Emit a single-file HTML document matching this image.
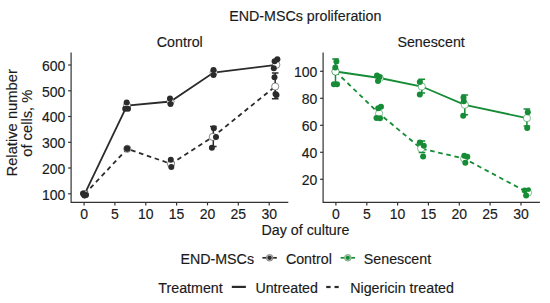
<!DOCTYPE html>
<html><head><meta charset="utf-8"><style>
html,body{margin:0;padding:0;background:#fff;width:550px;height:303px;overflow:hidden}
svg{display:block}
text{font-family:"Liberation Sans", sans-serif;fill:#1a1a1a;stroke:#1a1a1a;stroke-width:0.15px}
</style></head><body>
<svg width="550" height="303" viewBox="0 0 550 303">
<rect width="550" height="303" fill="#fff"/>
<text x="305.3" y="21.2" font-size="14.25" text-anchor="middle">END-MSCs proliferation</text>
<text x="179.75" y="46.7" font-size="14.25" text-anchor="middle">Control</text>
<text x="431.1" y="46.7" font-size="14.25" text-anchor="middle">Senescent</text>
<path d="M71.1,52.4V202.4H288.3" fill="none" stroke="#333333" stroke-width="1.2"/>
<line x1="84.1" y1="202.4" x2="84.1" y2="205.4" stroke="#333333" stroke-width="1.2"/>
<text x="84.1" y="218.7" font-size="14" text-anchor="middle">0</text>
<line x1="114.9" y1="202.4" x2="114.9" y2="205.4" stroke="#333333" stroke-width="1.2"/>
<text x="114.9" y="218.7" font-size="14" text-anchor="middle">5</text>
<line x1="145.8" y1="202.4" x2="145.8" y2="205.4" stroke="#333333" stroke-width="1.2"/>
<text x="145.8" y="218.7" font-size="14" text-anchor="middle">10</text>
<line x1="176.6" y1="202.4" x2="176.6" y2="205.4" stroke="#333333" stroke-width="1.2"/>
<text x="176.6" y="218.7" font-size="14" text-anchor="middle">15</text>
<line x1="207.5" y1="202.4" x2="207.5" y2="205.4" stroke="#333333" stroke-width="1.2"/>
<text x="207.5" y="218.7" font-size="14" text-anchor="middle">20</text>
<line x1="238.3" y1="202.4" x2="238.3" y2="205.4" stroke="#333333" stroke-width="1.2"/>
<text x="238.3" y="218.7" font-size="14" text-anchor="middle">25</text>
<line x1="269.2" y1="202.4" x2="269.2" y2="205.4" stroke="#333333" stroke-width="1.2"/>
<text x="269.2" y="218.7" font-size="14" text-anchor="middle">30</text>
<path d="M323.1,52.4V202.4H539.9" fill="none" stroke="#333333" stroke-width="1.2"/>
<line x1="335.9" y1="202.4" x2="335.9" y2="205.4" stroke="#333333" stroke-width="1.2"/>
<text x="335.9" y="218.7" font-size="14" text-anchor="middle">0</text>
<line x1="366.8" y1="202.4" x2="366.8" y2="205.4" stroke="#333333" stroke-width="1.2"/>
<text x="366.8" y="218.7" font-size="14" text-anchor="middle">5</text>
<line x1="397.6" y1="202.4" x2="397.6" y2="205.4" stroke="#333333" stroke-width="1.2"/>
<text x="397.6" y="218.7" font-size="14" text-anchor="middle">10</text>
<line x1="428.4" y1="202.4" x2="428.4" y2="205.4" stroke="#333333" stroke-width="1.2"/>
<text x="428.4" y="218.7" font-size="14" text-anchor="middle">15</text>
<line x1="459.3" y1="202.4" x2="459.3" y2="205.4" stroke="#333333" stroke-width="1.2"/>
<text x="459.3" y="218.7" font-size="14" text-anchor="middle">20</text>
<line x1="490.1" y1="202.4" x2="490.1" y2="205.4" stroke="#333333" stroke-width="1.2"/>
<text x="490.1" y="218.7" font-size="14" text-anchor="middle">25</text>
<line x1="521.0" y1="202.4" x2="521.0" y2="205.4" stroke="#333333" stroke-width="1.2"/>
<text x="521.0" y="218.7" font-size="14" text-anchor="middle">30</text>
<line x1="68.1" y1="193.8" x2="71.1" y2="193.8" stroke="#333333" stroke-width="1.2"/>
<text x="65.4" y="199.7" font-size="14" text-anchor="end">100</text>
<line x1="68.1" y1="168.0" x2="71.1" y2="168.0" stroke="#333333" stroke-width="1.2"/>
<text x="65.4" y="173.9" font-size="14" text-anchor="end">200</text>
<line x1="68.1" y1="142.3" x2="71.1" y2="142.3" stroke="#333333" stroke-width="1.2"/>
<text x="65.4" y="148.2" font-size="14" text-anchor="end">300</text>
<line x1="68.1" y1="116.5" x2="71.1" y2="116.5" stroke="#333333" stroke-width="1.2"/>
<text x="65.4" y="122.4" font-size="14" text-anchor="end">400</text>
<line x1="68.1" y1="90.8" x2="71.1" y2="90.8" stroke="#333333" stroke-width="1.2"/>
<text x="65.4" y="96.7" font-size="14" text-anchor="end">500</text>
<line x1="68.1" y1="65.0" x2="71.1" y2="65.0" stroke="#333333" stroke-width="1.2"/>
<text x="65.4" y="70.9" font-size="14" text-anchor="end">600</text>
<line x1="320.1" y1="179.3" x2="323.1" y2="179.3" stroke="#333333" stroke-width="1.2"/>
<text x="317.3" y="185.2" font-size="14" text-anchor="end">20</text>
<line x1="320.1" y1="152.3" x2="323.1" y2="152.3" stroke="#333333" stroke-width="1.2"/>
<text x="317.3" y="158.2" font-size="14" text-anchor="end">40</text>
<line x1="320.1" y1="125.3" x2="323.1" y2="125.3" stroke="#333333" stroke-width="1.2"/>
<text x="317.3" y="131.2" font-size="14" text-anchor="end">60</text>
<line x1="320.1" y1="98.3" x2="323.1" y2="98.3" stroke="#333333" stroke-width="1.2"/>
<text x="317.3" y="104.2" font-size="14" text-anchor="end">80</text>
<line x1="320.1" y1="71.3" x2="323.1" y2="71.3" stroke="#333333" stroke-width="1.2"/>
<text x="317.3" y="77.2" font-size="14" text-anchor="end">100</text>
<text x="305.5" y="235.1" font-size="14.25" text-anchor="middle">Day of culture</text>
<text transform="translate(17.0,122.8) rotate(-90)" font-size="14.75" text-anchor="middle">Relative number</text>
<text transform="translate(32.2,123.2) rotate(-90)" font-size="14.75" text-anchor="middle">of cells, %</text>
<polyline points="84.6,194.2 127.0,105.5 170.5,101.5 213.6,72.5 276.3,64.8" fill="none" stroke="#2b2b2b" stroke-width="1.8"/>
<polyline points="84.6,194.2 127.3,148.8 171.0,163.9 212.8,136.9 275.2,86.5" fill="none" stroke="#2b2b2b" stroke-width="1.8" stroke-dasharray="4.6 3.7"/>
<path d="M210.0,126.5H216.6M213.3,126.5V146.4M210.0,146.4H216.6" stroke="#2b2b2b" stroke-width="1.5" fill="none"/>
<path d="M271.9,72.9H278.5M275.2,72.9V98.8M271.9,98.8H278.5" stroke="#2b2b2b" stroke-width="1.5" fill="none"/>
<circle cx="84.6" cy="194.2" r="3.6" fill="#fff" stroke="#2b2b2b" stroke-width="0.8" stroke-opacity="0.7"/>
<circle cx="127.0" cy="105.5" r="3.6" fill="#fff" stroke="#2b2b2b" stroke-width="0.8" stroke-opacity="0.7"/>
<circle cx="170.5" cy="101.5" r="3.6" fill="#fff" stroke="#2b2b2b" stroke-width="0.8" stroke-opacity="0.7"/>
<circle cx="213.6" cy="72.5" r="3.6" fill="#fff" stroke="#2b2b2b" stroke-width="0.8" stroke-opacity="0.7"/>
<circle cx="276.3" cy="64.8" r="3.6" fill="#fff" stroke="#2b2b2b" stroke-width="0.8" stroke-opacity="0.7"/>
<circle cx="84.6" cy="194.2" r="3.6" fill="#fff" stroke="#2b2b2b" stroke-width="0.8" stroke-opacity="0.7"/>
<circle cx="127.3" cy="148.8" r="3.6" fill="#fff" stroke="#2b2b2b" stroke-width="0.8" stroke-opacity="0.7"/>
<circle cx="171.0" cy="163.9" r="3.6" fill="#fff" stroke="#2b2b2b" stroke-width="0.8" stroke-opacity="0.7"/>
<circle cx="212.8" cy="136.9" r="3.6" fill="#fff" stroke="#2b2b2b" stroke-width="0.8" stroke-opacity="0.7"/>
<circle cx="275.2" cy="86.5" r="3.6" fill="#fff" stroke="#2b2b2b" stroke-width="0.8" stroke-opacity="0.7"/>
<circle cx="83.0" cy="193.5" r="3.0" fill="#2b2b2b"/>
<circle cx="86.0" cy="195.0" r="3.0" fill="#2b2b2b"/>
<circle cx="84.5" cy="195.5" r="3.0" fill="#2b2b2b"/>
<circle cx="126.7" cy="102.4" r="3.0" fill="#2b2b2b"/>
<circle cx="125.2" cy="108.8" r="3.0" fill="#2b2b2b"/>
<circle cx="128.0" cy="108.8" r="3.0" fill="#2b2b2b"/>
<circle cx="170.0" cy="98.5" r="3.0" fill="#2b2b2b"/>
<circle cx="170.5" cy="104.0" r="3.0" fill="#2b2b2b"/>
<circle cx="213.5" cy="70.0" r="3.0" fill="#2b2b2b"/>
<circle cx="213.5" cy="75.0" r="3.0" fill="#2b2b2b"/>
<circle cx="277.4" cy="59.2" r="3.0" fill="#2b2b2b"/>
<circle cx="274.6" cy="61.3" r="3.0" fill="#2b2b2b"/>
<circle cx="273.8" cy="68.3" r="3.0" fill="#2b2b2b"/>
<circle cx="127.3" cy="148.8" r="3.0" fill="#2b2b2b"/>
<circle cx="127.0" cy="148.5" r="3.0" fill="#2b2b2b"/>
<circle cx="170.8" cy="159.8" r="3.0" fill="#2b2b2b"/>
<circle cx="171.3" cy="167.0" r="3.0" fill="#2b2b2b"/>
<circle cx="213.8" cy="128.2" r="3.0" fill="#2b2b2b"/>
<circle cx="216.0" cy="136.9" r="3.0" fill="#2b2b2b"/>
<circle cx="211.9" cy="147.7" r="3.0" fill="#2b2b2b"/>
<circle cx="274.5" cy="77.3" r="3.0" fill="#2b2b2b"/>
<circle cx="276.5" cy="95.1" r="3.0" fill="#2b2b2b"/>
<circle cx="275.5" cy="94.0" r="3.0" fill="#2b2b2b"/>
<polyline points="335.5,71.5 379.8,78.0 421.8,86.5 464.8,104.8 526.9,118.1" fill="none" stroke="#168c36" stroke-width="1.8"/>
<polyline points="335.5,71.5 379.1,113.5 421.1,148.5 464.2,158.6 528.0,192.6" fill="none" stroke="#168c36" stroke-width="1.8" stroke-dasharray="4.6 3.7"/>
<path d="M332.2,59.0H338.8M335.5,59.0V85.0M332.2,85.0H338.8" stroke="#168c36" stroke-width="1.5" fill="none"/>
<path d="M418.5,79.2H425.1M421.8,79.2V93.1M418.5,93.1H425.1" stroke="#168c36" stroke-width="1.5" fill="none"/>
<path d="M461.5,94.9H468.1M464.8,94.9V114.7M461.5,114.7H468.1" stroke="#168c36" stroke-width="1.5" fill="none"/>
<path d="M523.6,108.9H530.2M526.9,108.9V126.0M523.6,126.0H530.2" stroke="#168c36" stroke-width="1.5" fill="none"/>
<path d="M418.7,141.0H425.3M422.0,141.0V152.4M418.7,152.4H425.3" stroke="#168c36" stroke-width="1.5" fill="none"/>
<circle cx="335.5" cy="71.5" r="3.6" fill="#fff" stroke="#168c36" stroke-width="0.8" stroke-opacity="0.7"/>
<circle cx="379.8" cy="78.0" r="3.6" fill="#fff" stroke="#168c36" stroke-width="0.8" stroke-opacity="0.7"/>
<circle cx="421.8" cy="86.5" r="3.6" fill="#fff" stroke="#168c36" stroke-width="0.8" stroke-opacity="0.7"/>
<circle cx="464.8" cy="104.8" r="3.6" fill="#fff" stroke="#168c36" stroke-width="0.8" stroke-opacity="0.7"/>
<circle cx="526.9" cy="118.1" r="3.6" fill="#fff" stroke="#168c36" stroke-width="0.8" stroke-opacity="0.7"/>
<circle cx="335.5" cy="71.5" r="3.6" fill="#fff" stroke="#168c36" stroke-width="0.8" stroke-opacity="0.7"/>
<circle cx="379.1" cy="113.5" r="3.6" fill="#fff" stroke="#168c36" stroke-width="0.8" stroke-opacity="0.7"/>
<circle cx="421.1" cy="148.5" r="3.6" fill="#fff" stroke="#168c36" stroke-width="0.8" stroke-opacity="0.7"/>
<circle cx="464.2" cy="158.6" r="3.6" fill="#fff" stroke="#168c36" stroke-width="0.8" stroke-opacity="0.7"/>
<circle cx="528.0" cy="192.6" r="3.6" fill="#fff" stroke="#168c36" stroke-width="0.8" stroke-opacity="0.7"/>
<circle cx="336.4" cy="61.4" r="3.0" fill="#168c36"/>
<circle cx="335.3" cy="67.5" r="3.0" fill="#168c36"/>
<circle cx="333.9" cy="84.3" r="3.0" fill="#168c36"/>
<circle cx="337.0" cy="84.3" r="3.0" fill="#168c36"/>
<circle cx="377.0" cy="75.5" r="3.0" fill="#168c36"/>
<circle cx="379.5" cy="77.0" r="3.0" fill="#168c36"/>
<circle cx="378.0" cy="81.0" r="3.0" fill="#168c36"/>
<circle cx="419.8" cy="81.9" r="3.0" fill="#168c36"/>
<circle cx="419.8" cy="94.4" r="3.0" fill="#168c36"/>
<circle cx="463.5" cy="97.5" r="3.0" fill="#168c36"/>
<circle cx="463.8" cy="101.2" r="3.0" fill="#168c36"/>
<circle cx="463.2" cy="115.8" r="3.0" fill="#168c36"/>
<circle cx="527.8" cy="112.2" r="3.0" fill="#168c36"/>
<circle cx="527.2" cy="128.0" r="3.0" fill="#168c36"/>
<circle cx="378.2" cy="108.3" r="3.0" fill="#168c36"/>
<circle cx="381.0" cy="106.8" r="3.0" fill="#168c36"/>
<circle cx="376.5" cy="118.0" r="3.0" fill="#168c36"/>
<circle cx="380.0" cy="118.3" r="3.0" fill="#168c36"/>
<circle cx="419.8" cy="142.5" r="3.0" fill="#168c36"/>
<circle cx="423.8" cy="145.8" r="3.0" fill="#168c36"/>
<circle cx="423.1" cy="156.4" r="3.0" fill="#168c36"/>
<circle cx="464.3" cy="155.8" r="3.0" fill="#168c36"/>
<circle cx="467.3" cy="156.8" r="3.0" fill="#168c36"/>
<circle cx="465.3" cy="162.8" r="3.0" fill="#168c36"/>
<circle cx="524.7" cy="190.4" r="3.0" fill="#168c36"/>
<circle cx="528.6" cy="189.6" r="2.4" fill="#168c36"/>
<circle cx="526.1" cy="195.4" r="3.0" fill="#168c36"/>
<text x="180.4" y="263.6" font-size="14.25">END-MSCs</text>
<line x1="262.40000000000003" y1="257.8" x2="276.8" y2="257.8" stroke="#2b2b2b" stroke-width="1.7"/>
<circle cx="269.6" cy="257.8" r="3.3" fill="#b8b8b8" stroke="#8a8a8a" stroke-width="1"/>
<circle cx="269.6" cy="257.8" r="2.1" fill="#2b2b2b"/>
<text x="285.9" y="263.6" font-size="14.25">Control</text>
<line x1="340.6" y1="257.8" x2="355.0" y2="257.8" stroke="#168c36" stroke-width="1.7"/>
<circle cx="347.8" cy="257.8" r="3.3" fill="#b3d2bb" stroke="#7fae8a" stroke-width="1"/>
<circle cx="347.8" cy="257.8" r="2.1" fill="#168c36"/>
<text x="363.8" y="263.6" font-size="14.25">Senescent</text>
<text x="158.3" y="292.6" font-size="14.25">Treatment</text>
<line x1="231.8" y1="286.9" x2="245.9" y2="286.9" stroke="#2b2b2b" stroke-width="2.2"/>
<text x="255.4" y="292.6" font-size="14.25">Untreated</text>
<line x1="326.2" y1="287.0" x2="330.6" y2="287.0" stroke="#2b2b2b" stroke-width="2.2"/>
<line x1="334.5" y1="287.0" x2="338.7" y2="287.0" stroke="#2b2b2b" stroke-width="2.2"/>
<text x="350.2" y="292.6" font-size="14.25">Nigericin treated</text>
</svg></body></html>
